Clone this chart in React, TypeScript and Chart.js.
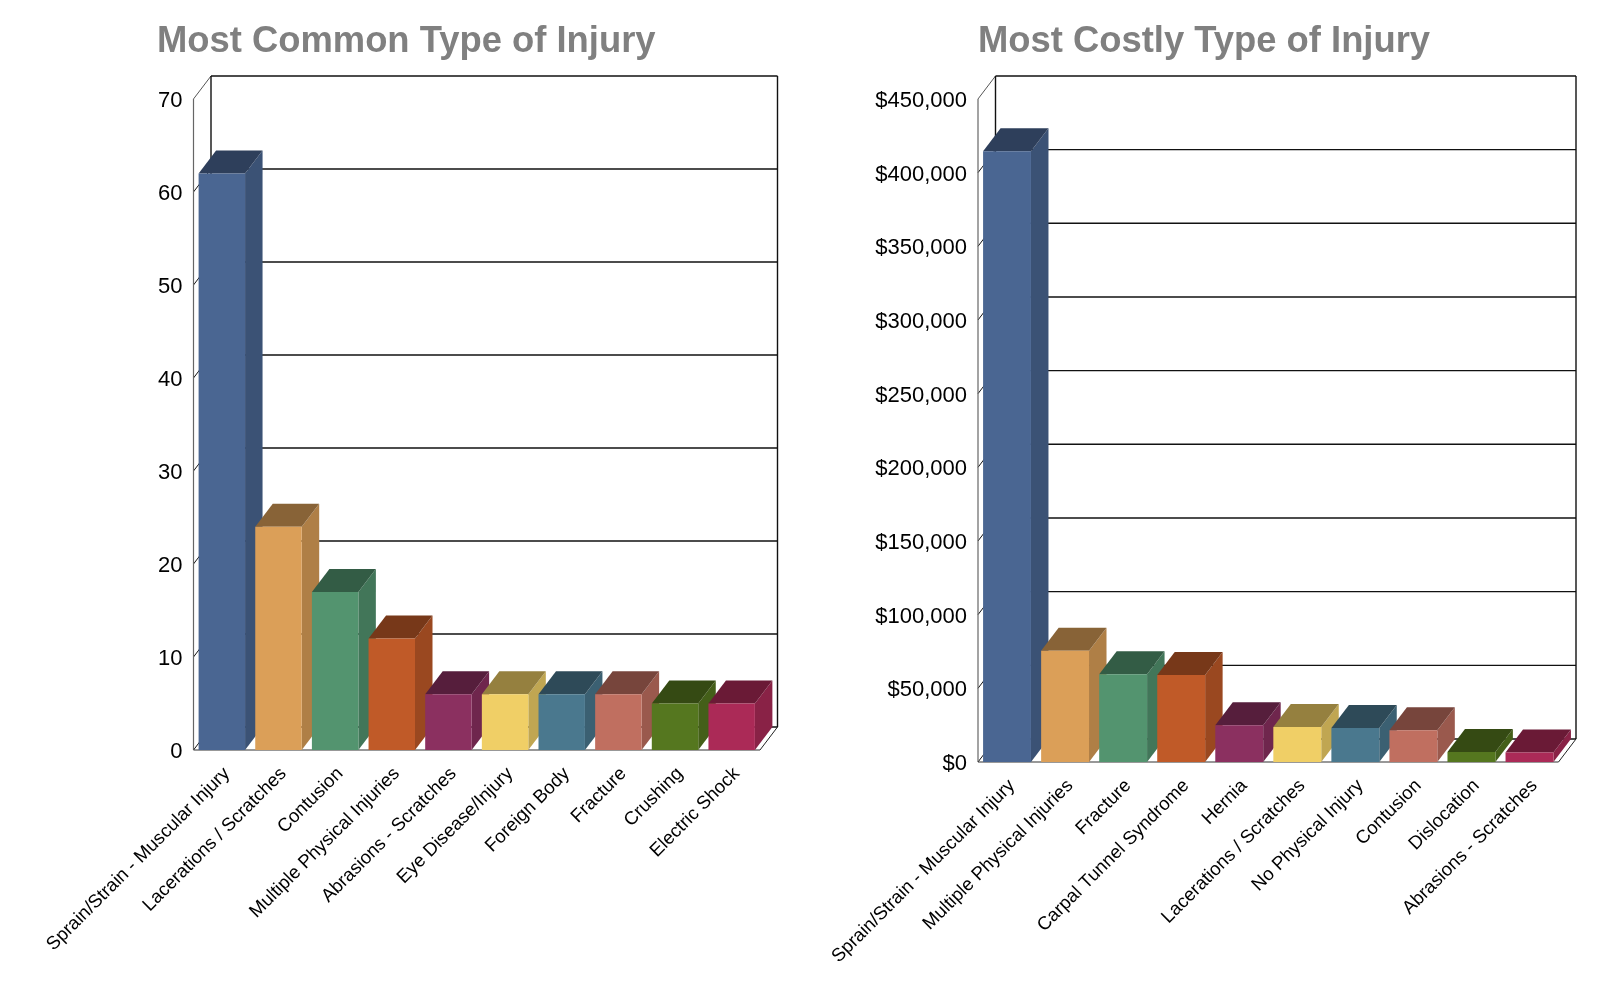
import React, { useEffect, useRef } from 'react';
import { Chart, registerables } from 'chart.js';

Chart.register(...registerables);

const commonCategories = [
  'Sprain/Strain - Muscular Injury',
  'Lacerations / Scratches',
  'Contusion',
  'Multiple Physical Injuries',
  'Abrasions - Scratches',
  'Eye Disease/Injury',
  'Foreign Body',
  'Fracture',
  'Crushing',
  'Electric Shock',
];
const commonValues = [62, 24, 17, 12, 6, 6, 6, 6, 5, 5];

const costlyCategories = [
  'Sprain/Strain - Muscular Injury',
  'Multiple Physical Injuries',
  'Fracture',
  'Carpal Tunnel Syndrome',
  'Hernia',
  'Lacerations / Scratches',
  'No Physical Injury',
  'Contusion',
  'Dislocation',
  'Abrasions - Scratches',
];
const costlyValues = [414500, 75500, 59500, 59000, 25000, 23700, 23000, 21600, 6800, 6500];

const barColors = ['#4A6692', '#DB9F58', '#53946F', '#C05A28', '#8B3060', '#F0CF66', '#4A788E', '#C06F60', '#55771F', '#AB2A57'];

const DEPTH_X = 17.5;
const DEPTH_Y = 23;

const shade = (hex: string, factor: number) => {
  const n = parseInt(hex.slice(1), 16);
  const r = Math.round(((n >> 16) & 255) * factor);
  const g = Math.round(((n >> 8) & 255) * factor);
  const b = Math.round((n & 255) * factor);
  return `rgb(${r}, ${g}, ${b})`;
};

const poly = (ctx: CanvasRenderingContext2D, pts: number[][], fill: string) => {
  ctx.beginPath();
  pts.forEach(([x, y], i) => (i ? ctx.lineTo(x, y) : ctx.moveTo(x, y)));
  ctx.closePath();
  ctx.fillStyle = fill;
  ctx.fill();
};

const line = (ctx: CanvasRenderingContext2D, x1: number, y1: number, x2: number, y2: number, color: string, width: number) => {
  ctx.beginPath();
  ctx.moveTo(x1, y1);
  ctx.lineTo(x2, y2);
  ctx.strokeStyle = color;
  ctx.lineWidth = width;
  ctx.stroke();
};

// back wall, floor and the side/top faces of the bars
const depthPlugin = {
  id: 'depth3d',
  beforeDatasetsDraw(chart: any) {
    const { ctx, chartArea: a, scales } = chart;
    const y = scales.y;
    ctx.save();
    const backLeft = a.left + DEPTH_X;
    const backRight = a.right + DEPTH_X;

    y.ticks.forEach((t: any) => {
      const py = y.getPixelForValue(t.value);
      line(ctx, a.left, py, backLeft, py - DEPTH_Y, t.value === y.max ? '#555' : '#111', 1);
      line(ctx, backLeft, py - DEPTH_Y, backRight, py - DEPTH_Y, '#111', 1.4);
    });
    line(ctx, backLeft, a.top - DEPTH_Y, backLeft, a.bottom - DEPTH_Y, '#111', 1.4);
    line(ctx, backRight, a.top - DEPTH_Y, backRight, a.bottom - DEPTH_Y, '#111', 1.4);
    line(ctx, a.right, a.bottom, backRight, a.bottom - DEPTH_Y, '#222', 1);
    line(ctx, a.left, a.top, a.left, a.bottom, '#666', 1.2);
    line(ctx, a.left, a.bottom, a.right, a.bottom, '#333', 1.2);

    chart.getDatasetMeta(0).data.forEach((bar: any, i: number) => {
      const color = barColors[i];
      const l = bar.x - bar.width / 2;
      const r = bar.x + bar.width / 2;
      poly(ctx, [[r, bar.y], [r + DEPTH_X, bar.y - DEPTH_Y], [r + DEPTH_X, bar.base - DEPTH_Y], [r, bar.base]], shade(color, 0.8));
      poly(ctx, [[l, bar.y], [l + DEPTH_X, bar.y - DEPTH_Y], [r + DEPTH_X, bar.y - DEPTH_Y], [r, bar.y]], shade(color, 0.62));
    });
    ctx.restore();
  },
};

interface BarPanelProps {
  title: string;
  categories: string[];
  values: number[];
  left: number;
  padLeft: number;
  axisLeft: number;
  axisRight: number;
  axisBottom: number;
  yMax: number;
  yStep: number;
  barPct: number;
  money?: boolean;
}

const PANEL_WIDTH = 800;

const BarPanel: React.FC<BarPanelProps> = ({ title, categories, values, left, padLeft, axisLeft, axisRight, axisBottom, yMax, yStep, barPct, money }) => {
  const canvasRef = useRef<HTMLCanvasElement | null>(null);

  useEffect(() => {
    const ctx = canvasRef.current?.getContext('2d');
    if (!ctx) return;
    const chart = new Chart(ctx, {
      type: 'bar',
      data: {
        labels: categories,
        datasets: [{ data: values, backgroundColor: barColors, borderWidth: 0, categoryPercentage: 1, barPercentage: barPct }],
      },
      options: {
        responsive: false,
        animation: false,
        // the title is centred between padLeft and the right padding
        layout: { padding: { top: 20, left: padLeft, right: PANEL_WIDTH - axisRight + left, bottom: 0 } },
        plugins: {
          legend: { display: false },
          tooltip: { enabled: false },
          title: {
            display: true,
            text: title,
            color: '#808080',
            font: { family: '"Liberation Sans"', size: 36.4, weight: 'bold', lineHeight: 1.2 },
            padding: { top: 0, bottom: 35.3 },
          },
        },
        scales: {
          x: {
            grid: { display: false, drawTicks: false },
            border: { display: false },
            ticks: {
              autoSkip: false,
              minRotation: 45,
              maxRotation: 45,
              padding: 13,
              labelOffset: 5,
              color: '#000',
              font: { family: '"Liberation Sans"', size: 18.6 },
            },
            afterFit: (scale: any) => {
              scale.height = 991 - axisBottom;
            },
          },
          y: {
            min: 0,
            max: yMax,
            grid: { display: false, drawTicks: false },
            border: { display: false },
            ticks: {
              stepSize: yStep,
              padding: 11,
              labelOffset: 2,
              color: '#000',
              font: { family: '"Liberation Sans"', size: 22 },
              callback: (v: any) => (money ? '$' + Number(v).toLocaleString('en-US') : String(v)),
            },
            afterFit: (scale: any) => {
              scale.width = axisLeft - left - padLeft;
            },
          },
        },
      } as any,
      plugins: [depthPlugin],
    });
    return () => chart.destroy();
  }, []);

  return (
    <canvas
      ref={canvasRef}
      width={PANEL_WIDTH}
      height={991}
      style={{ position: 'absolute', left, top: 0, width: PANEL_WIDTH, height: 991 }}
    />
  );
};

export default function App() {
  return (
    <div style={{ position: 'fixed', left: 0, top: 0, width: 1600, height: 991, background: '#fff', overflow: 'hidden' }}>
      <BarPanel
        title="Most Common Type of Injury"
        categories={commonCategories}
        values={commonValues}
        left={0}
        padLeft={52.5}
        axisLeft={193.5}
        axisRight={760}
        axisBottom={750}
        yMax={70}
        yStep={10}
        barPct={0.82}
      />
      <BarPanel
        title="Most Costly Type of Injury"
        categories={costlyCategories}
        values={costlyValues}
        left={800}
        padLeft={49.5}
        axisLeft={978}
        axisRight={1558.5}
        axisBottom={762}
        yMax={450000}
        yStep={50000}
        barPct={0.825}
        money
      />
    </div>
  );
}
